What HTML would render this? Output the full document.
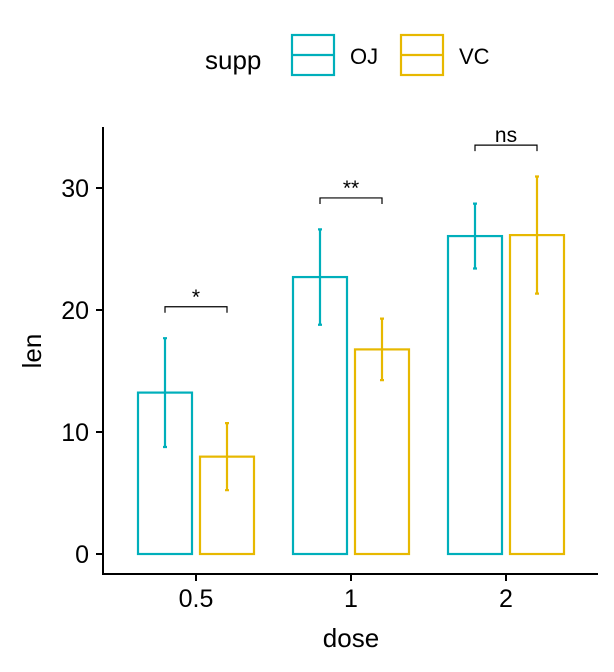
<!DOCTYPE html>
<html><head><meta charset="utf-8"><style>
html,body{margin:0;padding:0;background:#fff;}
svg{display:block;font-family:"Liberation Sans",Arial,sans-serif;}
</style></head><body>
<svg id="chart" width="614" height="672" viewBox="0 0 614 672">
<g id="legend">
  <text x="205" y="69" font-size="26" fill="#000">supp</text>
  <g>
    <rect x="292" y="35" width="42" height="40" fill="#fff" stroke="#00AFBB" stroke-width="2.2"/>
    <line x1="292" y1="55" x2="334" y2="55" stroke="#00AFBB" stroke-width="2.2"/>
    <text x="350" y="64" font-size="22" fill="#000">OJ</text>
  </g>
  <g>
    <rect x="401" y="35" width="42" height="40" fill="#fff" stroke="#E7B800" stroke-width="2.2"/>
    <line x1="401" y1="55" x2="443" y2="55" stroke="#E7B800" stroke-width="2.2"/>
    <text x="459" y="64" font-size="22" fill="#000">VC</text>
  </g>
</g>
<g id="plot"></g>
</svg>
<script>
const doses = ["0.5", "1", "2"];
const ojMean = [13.23, 22.70, 26.06];
const ojSd = [4.46, 3.91, 2.66];
const vcMean = [7.98, 16.77, 26.14];
const vcSd = [2.75, 2.52, 4.80];
const sigLabels = ["*", "**", "ns"];
const yTicks = [0, 10, 20, 30];

const NS = "http://www.w3.org/2000/svg";
const g = document.getElementById("plot");
function y(v){ return 554 - v * 12.2; }
function xc(i){ return 196 + i * 155; }
function mk(tag, attrs, parent){ const e = document.createElementNS(NS, tag); for (const k in attrs) e.setAttribute(k, attrs[k]); (parent||g).appendChild(e); return e; }

const ya = mk("line", {x1:103, y1:127, x2:103, y2:575, stroke:"#000", "stroke-width":2});


const xa = mk("line", {x1:102, y1:574, x2:598, y2:574, stroke:"#000", "stroke-width":2});



yTicks.forEach(t => {
  mk("line", {x1:96, y1:y(t), x2:103, y2:y(t), stroke:"#000", "stroke-width":2});
  const tx = mk("text", {x:89, y:y(t)+9, "font-size":25, "text-anchor":"end", fill:"#000"});
  tx.textContent = t;
  
  
});
doses.forEach((d, i) => {
  mk("line", {x1:xc(i), y1:574, x2:xc(i), y2:581, stroke:"#000", "stroke-width":2});
  const tx = mk("text", {x:xc(i), y:607, "font-size":25, "text-anchor":"middle", fill:"#000"});
  tx.textContent = d;
  
  
});
const xt = mk("text", {x:351, y:647, "font-size":26, "text-anchor":"middle", fill:"#000"});
xt.textContent = "dose";


const yt = mk("text", {x:0, y:0, "font-size":26, "text-anchor":"middle", fill:"#000", transform:"translate(41,351) rotate(-90)"});
yt.textContent = "len";



function bar(cx, m, s, col, name){
  const r = mk("rect", {x:cx-27, y:y(m), width:54, height:y(0)-y(m), fill:"#fff", stroke:col, "stroke-width":2.2});
  
  
  const eb = mk("path", {d:`M${cx-2} ${y(m+s)}H${cx+2}M${cx} ${y(m+s)}V${y(m-s)}M${cx-2} ${y(m-s)}H${cx+2}`, stroke:col, "stroke-width":2.2, fill:"none"});
  
  
}
doses.forEach((d, i) => {
  const oc = xc(i) - 31, vc = xc(i) + 31;
  bar(oc, ojMean[i], ojSd[i], "#00AFBB", "bar-oj-" + d);
  bar(vc, vcMean[i], vcSd[i], "#E7B800", "bar-vc-" + d);
  const top = Math.max(ojMean[i] + ojSd[i], vcMean[i] + vcSd[i]) + 2;
  const by = y(top) - 7;
  const br = mk("path", {d:`M${oc} ${by+6}V${by}H${vc}V${by+6}`, stroke:"#000", "stroke-width":1.2, fill:"none"});
  
  
  const lt = mk("text", {x:xc(i), y:by - 3, "font-size":21, "text-anchor":"middle", fill:"#000"});
  lt.textContent = sigLabels[i];
  
  
});
</script>
</body></html>
